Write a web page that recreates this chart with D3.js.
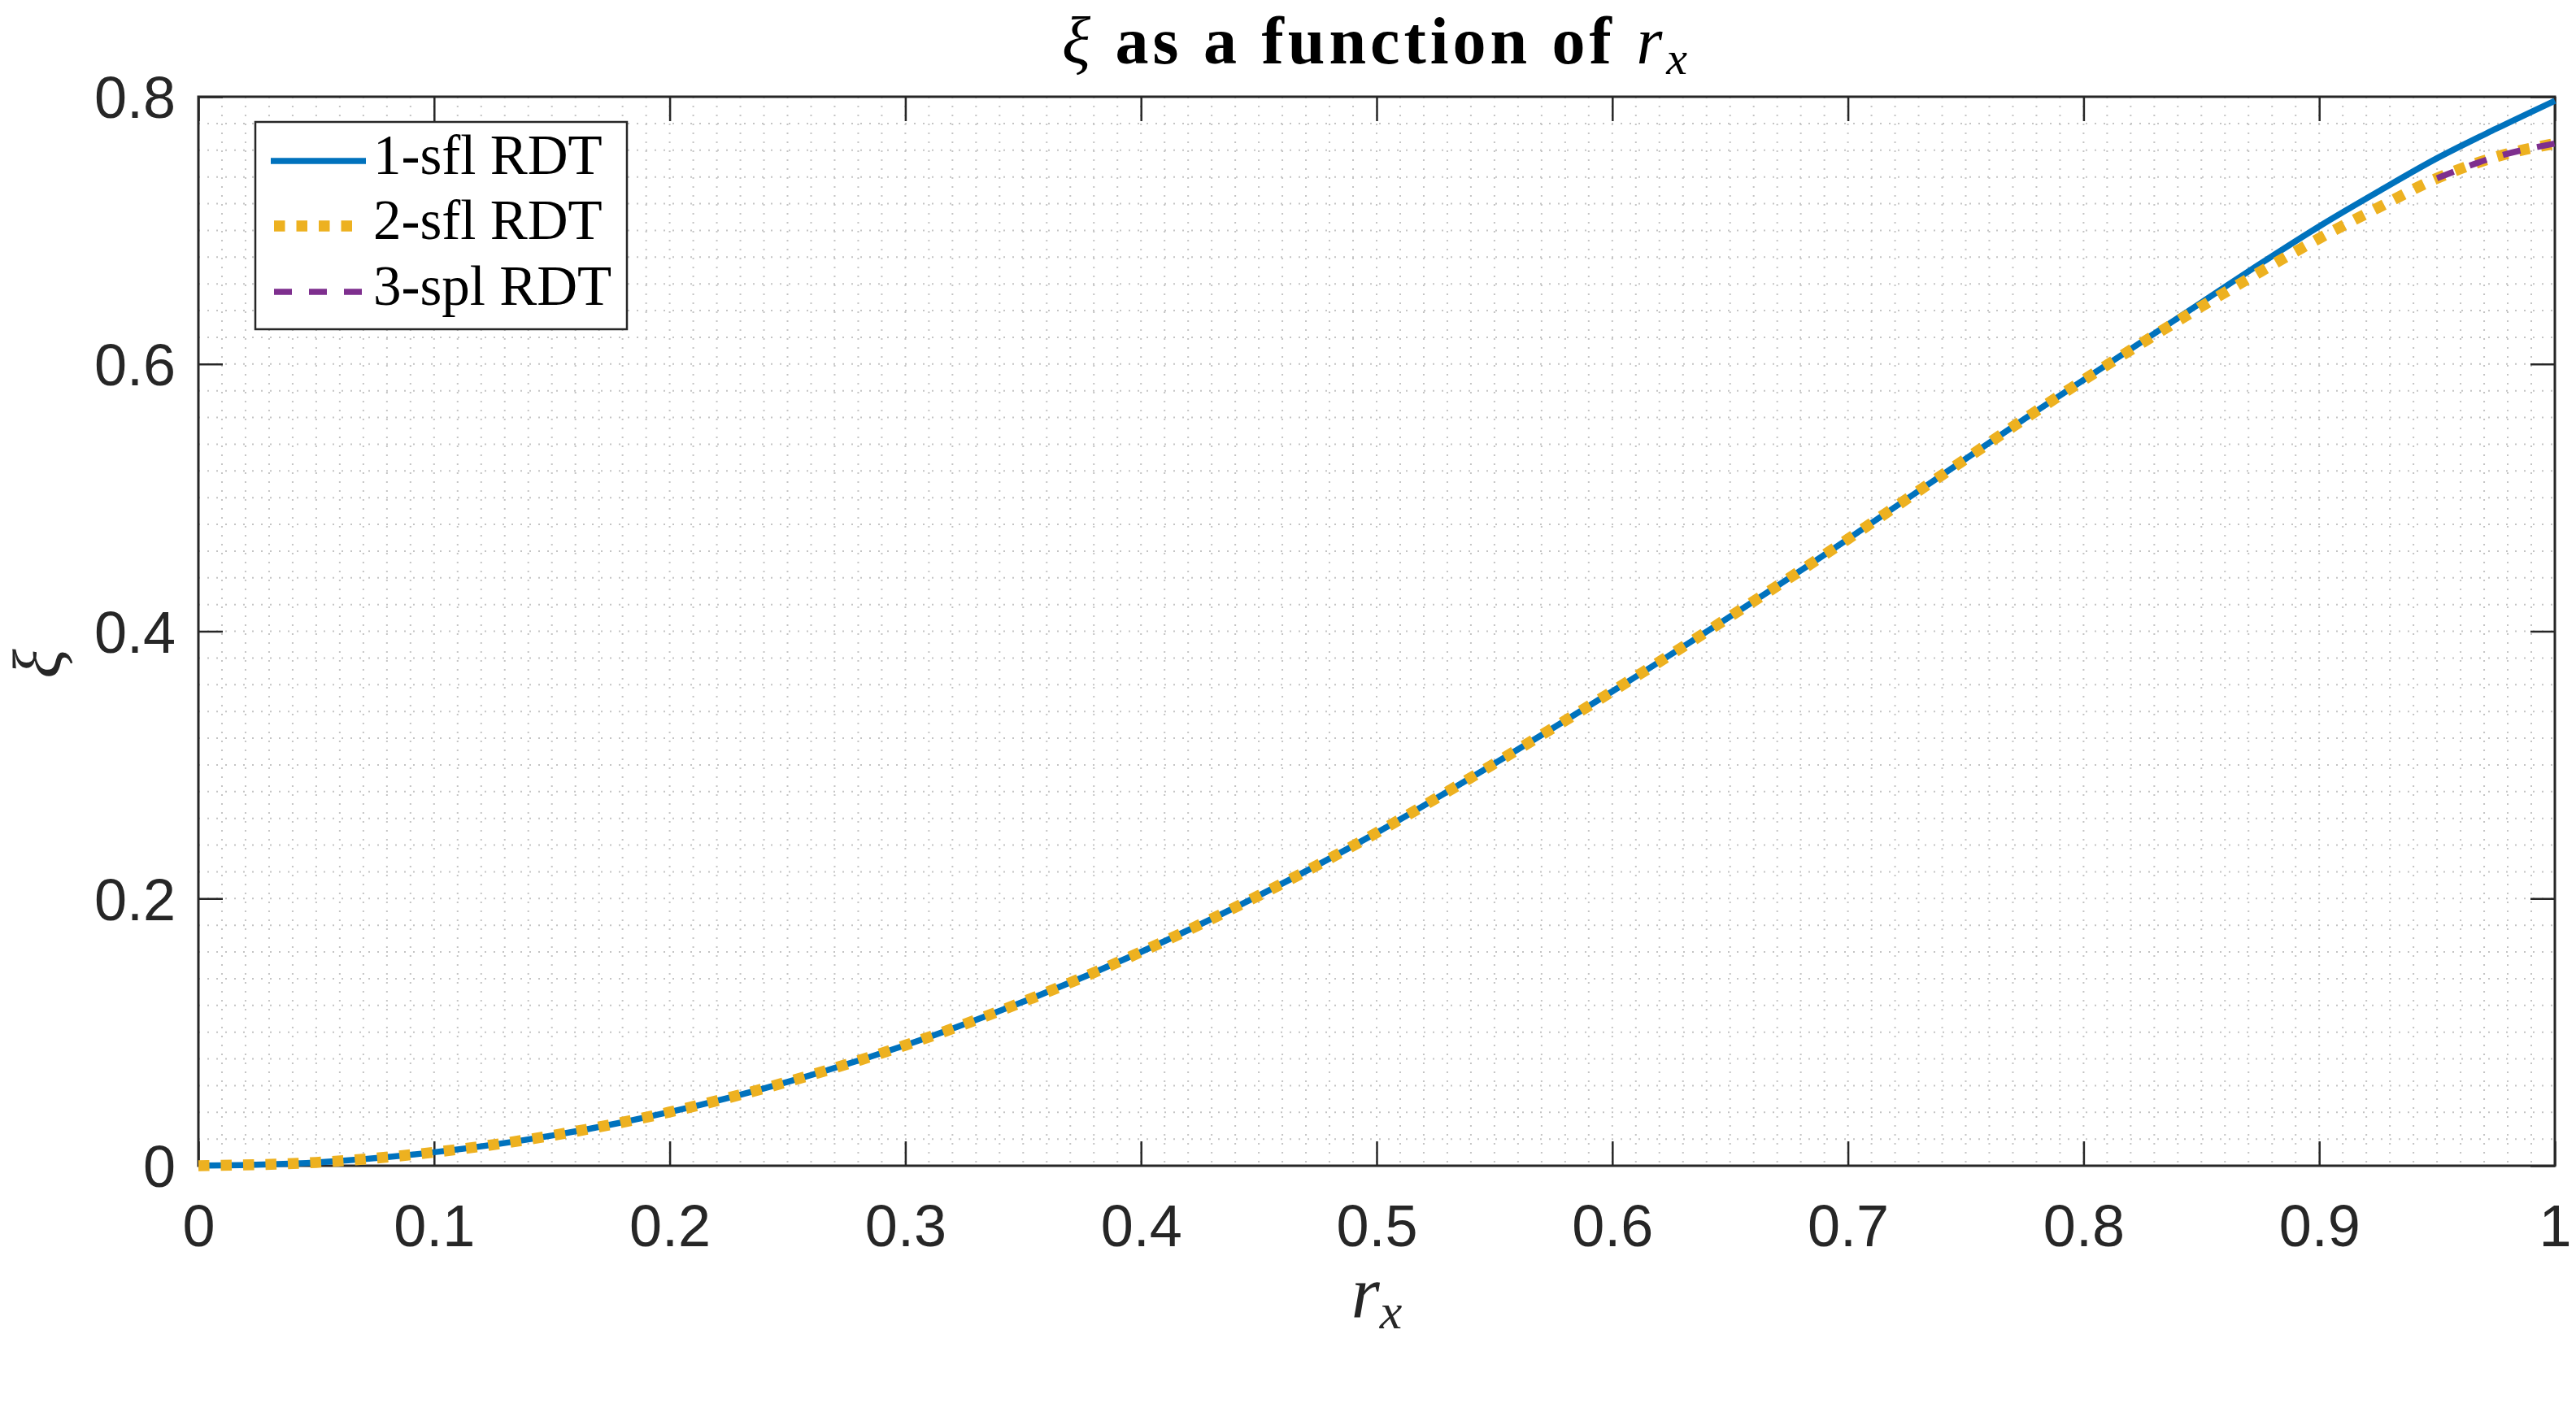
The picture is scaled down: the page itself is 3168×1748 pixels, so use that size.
<!DOCTYPE html>
<html>
<head>
<meta charset="utf-8">
<script src="https://cdn.jsdelivr.net/npm/d3@7"></script>
<style>
  html, body { margin: 0; padding: 0; background: #ffffff; }
  svg { display: block; }
</style>
</head>
<body>
<script>
// ---------------- data ----------------
const rx  = [0, 0.05, 0.1, 0.15, 0.2, 0.25, 0.3, 0.35, 0.4, 0.45, 0.5, 0.55, 0.6, 0.65, 0.7,
             0.725, 0.75, 0.775, 0.8, 0.825, 0.85, 0.875, 0.9, 0.925, 0.95, 0.975, 1.0];
const xi1 = [0, 0.0025, 0.0101, 0.0226, 0.0402, 0.0628, 0.0902, 0.1227, 0.1600, 0.2022, 0.2492, 0.3010, 0.3550, 0.4110, 0.4690,
             0.4990, 0.5290, 0.5590, 0.5880, 0.6170, 0.6460, 0.6750, 0.7030, 0.7290, 0.7540, 0.7760, 0.7970];
const xi2 = [0, 0.0025, 0.0101, 0.0226, 0.0402, 0.0628, 0.0902, 0.1227, 0.1600, 0.2022, 0.2492, 0.3010, 0.3550, 0.4110, 0.4690,
             0.4990, 0.5290, 0.5590, 0.5880, 0.6160, 0.6430, 0.6690, 0.6940, 0.7170, 0.7390, 0.7550, 0.7650];
const rx3 = [0.95, 0.975, 1.0];
const xi3 = [0.7390, 0.7550, 0.7650];

const seriesNames = ["1-sfl RDT", "2-sfl RDT", "3-spl RDT"];
const xTicks = [0, 0.1, 0.2, 0.3, 0.4, 0.5, 0.6, 0.7, 0.8, 0.9, 1];
const xTickLabels = ["0", "0.1", "0.2", "0.3", "0.4", "0.5", "0.6", "0.7", "0.8", "0.9", "1"];
const yTicks = [0, 0.2, 0.4, 0.6, 0.8];
const yTickLabels = ["0", "0.2", "0.4", "0.6", "0.8"];

// ---------------- layout ----------------
const W = 3168, H = 1748;
const L = 244, R = 3142, T = 119, B = 1434;
const axisColor = "#262626";
const tickFont = "'Liberation Sans', Arial, Helvetica, sans-serif";
const serif = "'Liberation Serif', 'Times New Roman', serif";

const svg = d3.select("body").append("svg")
  .attr("width", W).attr("height", H)
  .attr("viewBox", `0 0 ${W} ${H}`);

svg.append("rect").attr("width", W).attr("height", H).attr("fill", "#fff");

const x = d3.scaleLinear().domain([0, 1]).range([L, R]);
const y = d3.scaleLinear().domain([0, 0.8]).range([B, T]);

// ---------------- minor dotted grid ----------------
const grid = svg.append("g");
const xMinor = d3.range(0, 101).map(i => i / 100);
const yMinor = d3.range(0, 41).map(i => i / 50);
grid.selectAll("line.vx").data(xMinor).join("line")
  .attr("x1", d => x(d)).attr("x2", d => x(d))
  .attr("y1", T).attr("y2", B)
  .attr("stroke", "#c4c4c4").attr("stroke-width", 2)
  .attr("stroke-dasharray", "2 9");
grid.selectAll("line.hy").data(yMinor).join("line")
  .attr("y1", d => y(d)).attr("y2", d => y(d))
  .attr("x1", L).attr("x2", R)
  .attr("stroke", "#c4c4c4").attr("stroke-width", 2)
  .attr("stroke-dasharray", "2 9");

// ---------------- axes ----------------
function styleAxis(g) {
  g.select(".domain").remove();
  g.selectAll(".tick line").attr("stroke", axisColor).attr("stroke-width", 2.5);
  g.selectAll(".tick text").attr("fill", axisColor)
    .attr("font-family", tickFont).attr("font-size", 72);
}

svg.append("g").attr("transform", `translate(0,${B})`)
  .call(d3.axisBottom(x).tickValues(xTicks)
    .tickFormat((d, i) => xTickLabels[i])
    .tickSizeInner(-30).tickSizeOuter(0).tickPadding(48))
  .call(styleAxis)
  .call(g => g.selectAll(".tick text").attr("dy", "0.71em"));

svg.append("g").attr("transform", `translate(0,${T})`)
  .call(d3.axisTop(x).tickValues(xTicks).tickFormat("")
    .tickSizeInner(-30).tickSizeOuter(0))
  .call(styleAxis);

svg.append("g").attr("transform", `translate(${L},0)`)
  .call(d3.axisLeft(y).tickValues(yTicks)
    .tickFormat((d, i) => yTickLabels[i])
    .tickSizeInner(-30).tickSizeOuter(0).tickPadding(28))
  .call(styleAxis)
  .call(g => g.selectAll(".tick text").attr("dy", "0.36em"));

svg.append("g").attr("transform", `translate(${R},0)`)
  .call(d3.axisRight(y).tickValues(yTicks).tickFormat("")
    .tickSizeInner(-30).tickSizeOuter(0))
  .call(styleAxis);

svg.append("rect")
  .attr("x", L).attr("y", T).attr("width", R - L).attr("height", B - T)
  .attr("fill", "none").attr("stroke", axisColor).attr("stroke-width", 3);

// ---------------- lines ----------------
const line = d3.line().x(d => x(d[0])).y(d => y(d[1])).curve(d3.curveMonotoneX);
const styles = [
  { color: "#0072BD", width: 7.5, dash: null },
  { color: "#EDB120", width: 13.5, dash: "13.5 14" },
  { color: "#7E2F8E", width: 7.5, dash: "22 21" }
];
const series = [
  d3.zip(rx, xi1),
  d3.zip(rx, xi2),
  d3.zip(rx3, xi3)
];
series.forEach((s, i) => {
  svg.append("path").datum(s)
    .attr("d", line)
    .attr("fill", "none")
    .attr("stroke", styles[i].color)
    .attr("stroke-width", styles[i].width)
    .attr("stroke-dasharray", styles[i].dash)
    .attr("stroke-linecap", "butt")
    .attr("stroke-linejoin", "round");
});

// ---------------- legend ----------------
const lg = svg.append("g");
lg.append("rect").attr("x", 314).attr("y", 150).attr("width", 457).attr("height", 255)
  .attr("fill", "#fff").attr("stroke", axisColor).attr("stroke-width", 2.5);
const rowsY = [198, 278, 359];
const sampleEnds = [[333, 450], [337, 433], [337, 448]];
seriesNames.forEach((name, i) => {
  lg.append("line")
    .attr("x1", sampleEnds[i][0]).attr("x2", sampleEnds[i][1])
    .attr("y1", rowsY[i]).attr("y2", rowsY[i])
    .attr("stroke", styles[i].color)
    .attr("stroke-width", styles[i].width)
    .attr("stroke-dasharray", styles[i].dash);
  lg.append("text")
    .attr("x", 459).attr("y", rowsY[i] + 16)
    .attr("font-family", serif).attr("font-size", 69)
    .attr("fill", "#000")
    .text(name);
});

// ---------------- title & labels ----------------
const title = svg.append("text")
  .attr("x", (L + R) / 2).attr("y", 78)
  .attr("text-anchor", "middle")
  .attr("font-family", serif).attr("font-size", 82).attr("fill", "#000")
  .attr("letter-spacing", 5);
title.append("tspan").attr("font-style", "italic").text("ξ");
title.append("tspan").attr("font-weight", "bold").text(" as a function of ");
title.append("tspan").attr("font-style", "italic").text("r");
title.append("tspan").attr("font-style", "italic").attr("font-size", 58).attr("dy", 13).text("x");

const xl = svg.append("text")
  .attr("x", (L + R) / 2).attr("y", 1620)
  .attr("text-anchor", "middle")
  .attr("font-family", serif).attr("font-size", 90).attr("fill", "#262626");
xl.append("tspan").attr("font-style", "italic").text("r");
xl.append("tspan").attr("font-style", "italic").attr("font-size", 62).attr("dy", 14).text("x");

svg.append("text")
  .attr("transform", `translate(74,${(T + B) / 2 + 40}) rotate(-90)`)
  .attr("text-anchor", "middle")
  .attr("font-family", serif).attr("font-size", 84).attr("font-style", "italic")
  .attr("fill", "#262626")
  .text("ξ");
</script>
</body>
</html>
